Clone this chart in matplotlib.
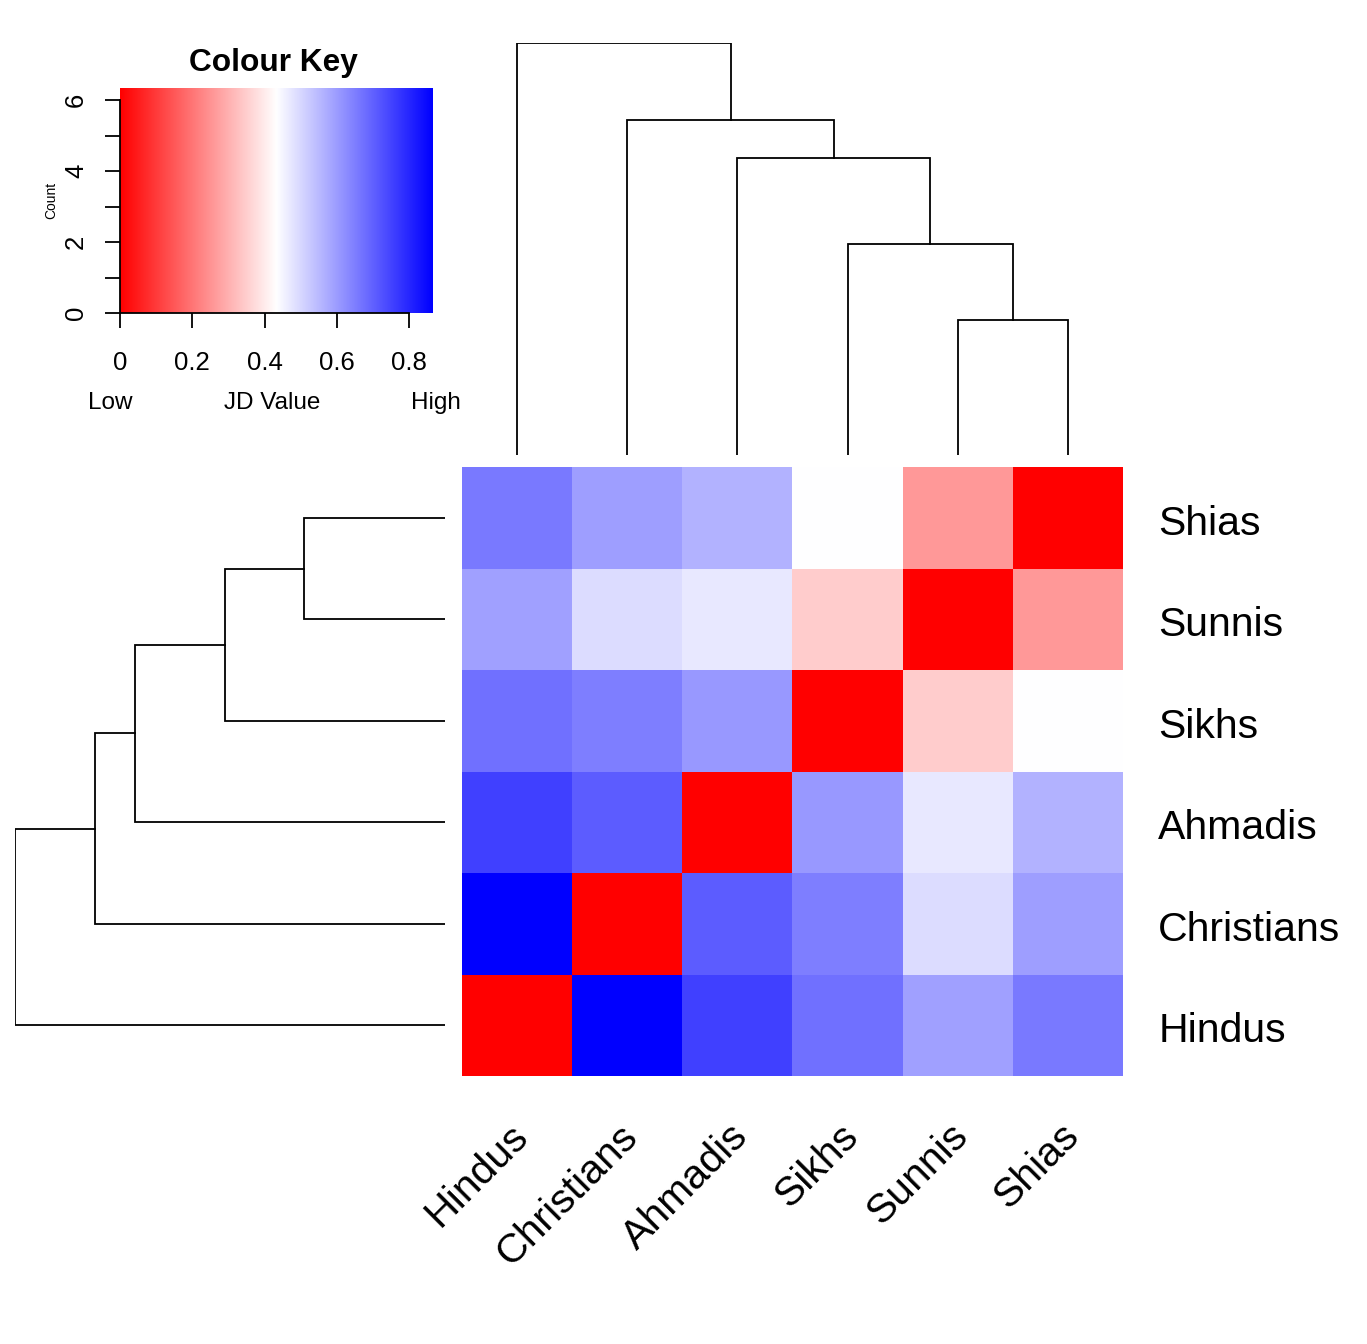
import numpy as np
import matplotlib
matplotlib.use("Agg")
import matplotlib.pyplot as plt
from matplotlib.colors import LinearSegmentedColormap

plt.rcParams["font.family"] = ["Liberation Sans", "DejaVu Sans"]

# groups in column order (left to right); rows are drawn bottom to top in the same order
groups = ["Hindus", "Christians", "Ahmadis", "Sikhs", "Sunnis", "Shias"]

jd = np.array([
    [0.000, 0.866, 0.757, 0.676, 0.595, 0.657],
    [0.866, 0.000, 0.710, 0.652, 0.491, 0.598],
    [0.757, 0.710, 0.000, 0.608, 0.472, 0.564],
    [0.676, 0.652, 0.608, 0.000, 0.346, 0.433],
    [0.595, 0.491, 0.472, 0.346, 0.000, 0.260],
    [0.657, 0.598, 0.564, 0.433, 0.260, 0.000],
])

# dendrogram merges (scipy-like: nodes 0-5 are leaves, 6+ are earlier merges)
merge_a = [4, 3, 2, 1, 0]
merge_b = [5, 6, 7, 8, 9]
merge_h = [0.328, 0.512, 0.72, 0.814, 1.0]

key_ticks = [0, 0.2, 0.4, 0.6, 0.8]
count_max = 6.34

cmap = LinearSegmentedColormap.from_list("rwb", ["#FF0000", "#FFFFFF", "#0000FF"], N=256)
vmax = jd.max()

W, H = 1367, 1344
fig = plt.figure(figsize=(W / 100, H / 100), dpi=100)


def px_axes(x0, y0, x1, y1):
    # pixel box (top-left origin) -> figure axes
    return fig.add_axes([x0 / W, 1 - y1 / H, (x1 - x0) / W, (y1 - y0) / H])


def tree_segments():
    pos = {i: (i + 0.5, 0.0) for i in range(len(groups))}
    segs = []
    for k, (a, b, h) in enumerate(zip(merge_a, merge_b, merge_h)):
        pa, ha = pos[a]
        pb, hb = pos[b]
        segs.append(([pa, pa, pb, pb], [ha, h, h, hb]))
        pos[len(groups) + k] = ((pa + pb) / 2, h)
    return segs


lw = 1.3

# heatmap
hx0, hy0, hx1, hy1 = 462, 467, 1123, 1076
ax = px_axes(hx0, hy0, hx1, hy1)
ax.imshow(jd, cmap=cmap, vmin=0, vmax=vmax, origin="lower", aspect="auto",
          extent=[0, 6, 0, 6], interpolation="nearest")
ax.set_xlim(0, 6)
ax.set_ylim(0, 6)
ax.axis("off")
for i, g in enumerate(groups):
    ax.text(6.32, i + 0.44, g, fontsize=29.5, ha="left", va="center")
    ax.text(i + 0.42, -0.40, g, fontsize=29.5, ha="right", va="top",
            rotation=45, rotation_mode="anchor")

# column dendrogram
axc = px_axes(hx0, 43, hx1, 455)
for xs, ys in tree_segments():
    axc.plot(xs, ys, color="black", lw=lw, solid_joinstyle="miter")
axc.set_xlim(0, 6)
axc.set_ylim(0, max(merge_h))
axc.axis("off")

# row dendrogram
axr = px_axes(15, hy0, 445, hy1)
for xs, ys in tree_segments():
    axr.plot(ys, xs, color="black", lw=lw, solid_joinstyle="miter")
axr.set_ylim(0, 6)
axr.set_xlim(max(merge_h), 0)
axr.axis("off")

# colour key
axk = px_axes(120, 88, 433, 313)
grad = np.linspace(0, vmax, 256).reshape(1, -1)
axk.imshow(grad, cmap=cmap, vmin=0, vmax=vmax, aspect="auto",
           extent=[0, vmax, 0, count_max], origin="lower")
axk.set_xlim(0, vmax)
axk.set_ylim(0, count_max)
for s in ["top", "right"]:
    axk.spines[s].set_visible(False)
axk.spines["left"].set_bounds(0, 6)
axk.spines["bottom"].set_bounds(0, 0.8)
axk.spines["left"].set_linewidth(lw)
axk.spines["bottom"].set_linewidth(lw)
axk.set_xticks(key_ticks)
axk.set_xticklabels(["0", "0.2", "0.4", "0.6", "0.8"], fontsize=18.5)
axk.set_yticks(range(7))
axk.set_yticklabels(["0", "", "2", "", "4", "", "6"], fontsize=18.5, rotation=90, va="center")
axk.tick_params(axis="both", length=11, width=lw, direction="out")
axk.tick_params(axis="x", pad=16)
axk.tick_params(axis="y", pad=12)
axk.set_ylabel("Count", fontsize=10, labelpad=4)
axk.text(0.49, 1.11, "Colour Key", transform=axk.transAxes, fontsize=22.8,
         fontweight="bold", ha="center", va="center")
axk.text(-0.03, -0.40, "Low", transform=axk.transAxes, fontsize=17.5, ha="center", va="center")
axk.text(0.486, -0.40, "JD Value", transform=axk.transAxes, fontsize=17.5, ha="center", va="center")
axk.text(1.01, -0.40, "High", transform=axk.transAxes, fontsize=17.5, ha="center", va="center")

fig.savefig("out.png", dpi=100, facecolor="white")
